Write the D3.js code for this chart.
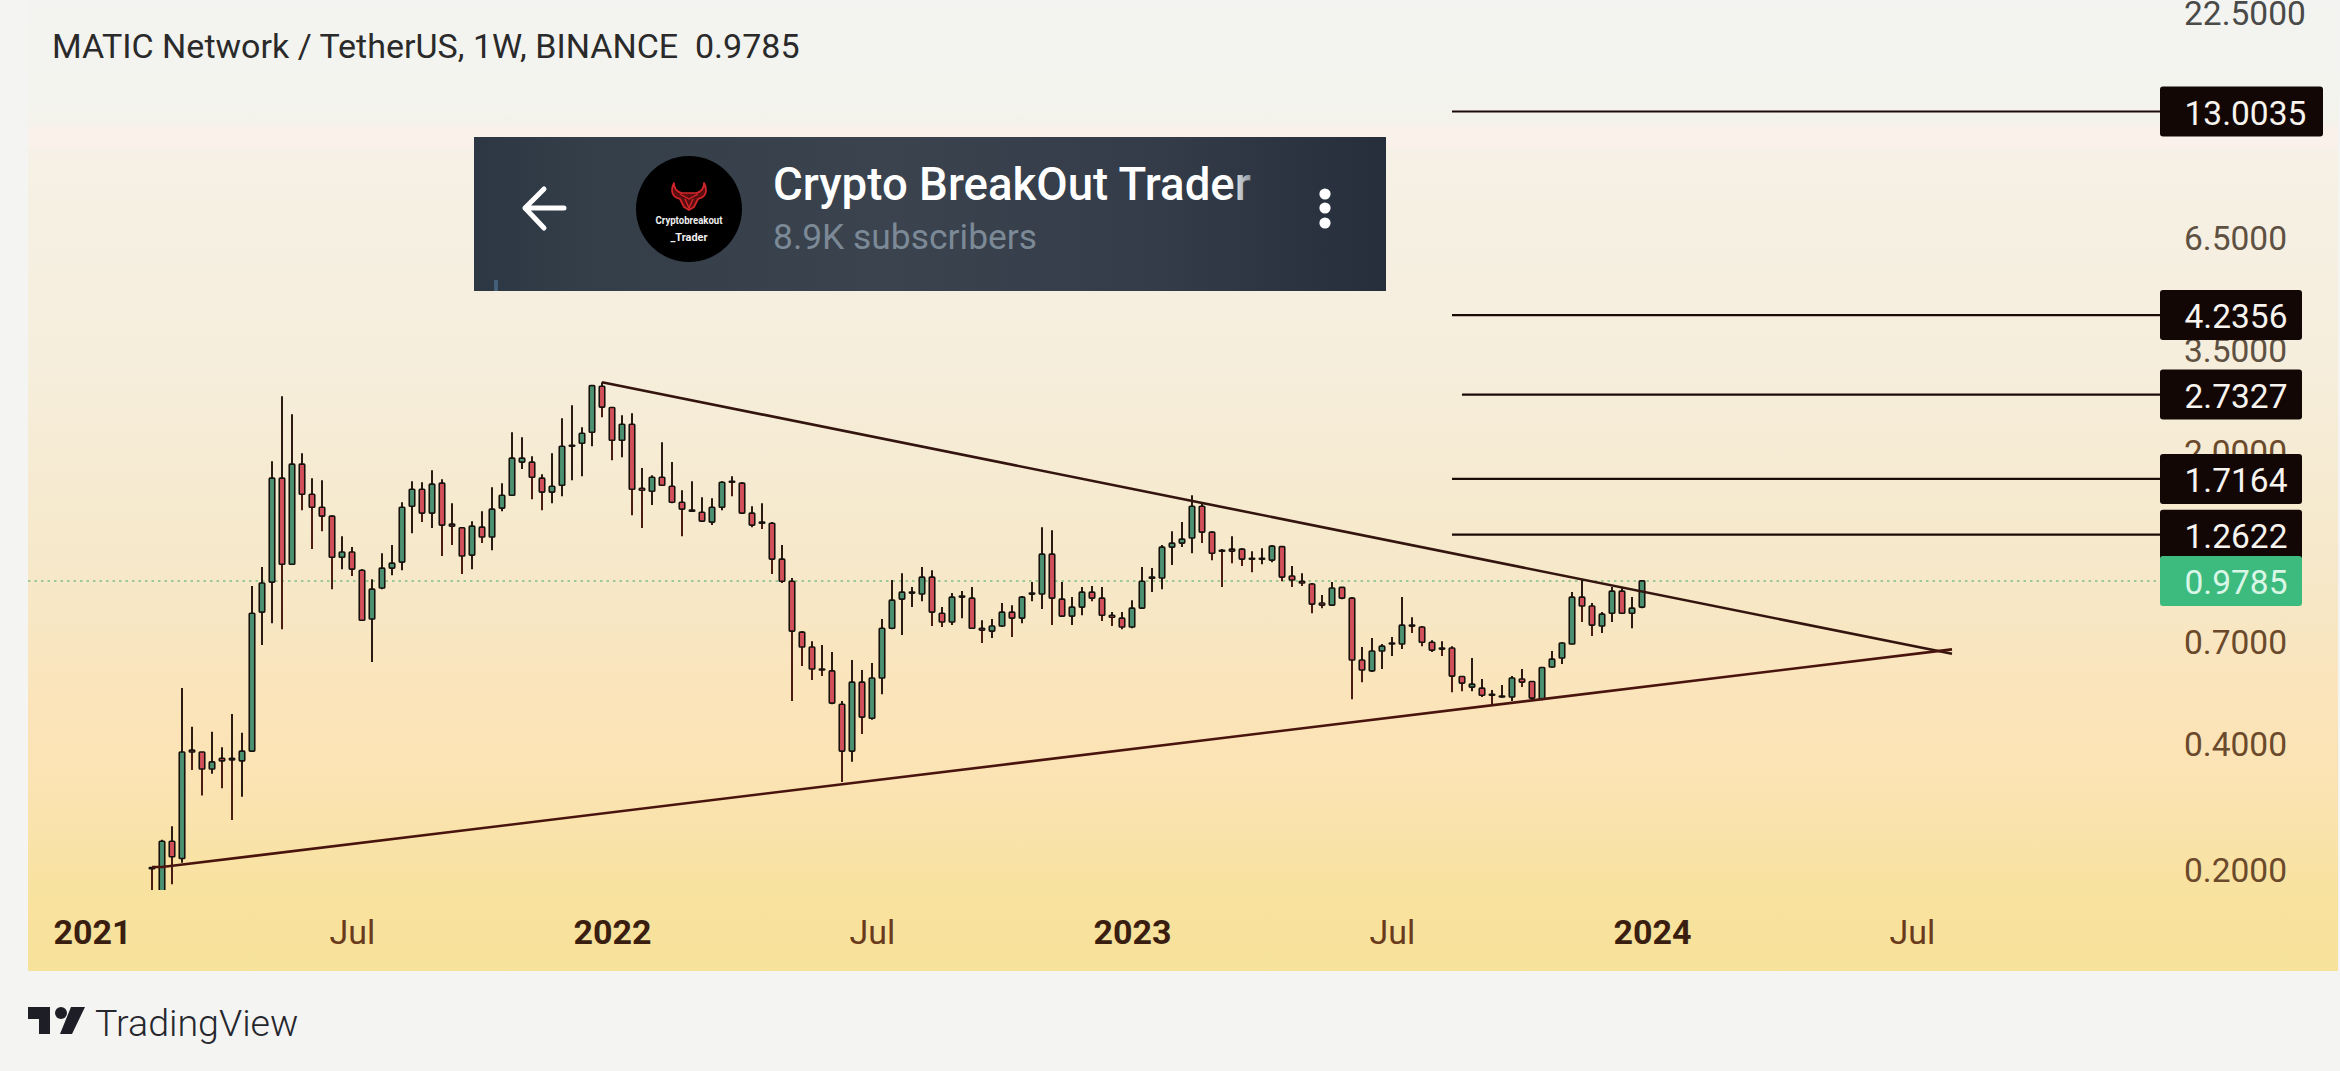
<!DOCTYPE html>
<html>
<head>
<meta charset="utf-8">
<script src="https://cdn.jsdelivr.net/npm/d3@7/dist/d3.min.js"></script>
<style>
html,body{margin:0;padding:0;background:#f4f4f2;overflow:hidden}
svg{display:block}
text{font-family:Roboto,"Noto Sans",sans-serif}
</style>
</head>
<body>
<svg id="chart" width="2340" height="1071"></svg>
<script>
// ---- values ----
const firstWeek = "2021-02-15";
const directions = "rgrgrrgrrg"+"gggrgrrrrg"+"rrgggggrgr"+"rrgrggggrr"+"gggggrrgrr"+"grrrrrggrr"+"rrrrrrrrrr"+"grggggggrr"+"ggrrggrggg"+"rrggrrrrgg"+"gggggrrrrr"+"rggrrrrrgr"+"rrggggrrrr"+"rrgrrrgrrg"+"gggrrggrgg";
const highs = [.202,.235,.253,.542,.438,.381,.426,.391,.470,.424,
.951,1.056,1.893,2.707,2.452,1.978,1.724,1.705,1.406,1.252,
1.179,1.044,.988,1.140,1.192,1.510,1.695,1.686,1.801,1.714,
1.502,1.316,1.360,1.437,1.640,1.677,2.220,2.160,1.946,1.762,
1.978,2.399,2.577,2.282,2.877,2.925,2.549,2.439,2.466,1.822,
1.752,2.100,1.883,1.613,1.695,1.552,1.544,1.695,1.743,1.686,
1.477,1.502,1.353,1.192,.994,.742,.702,.687,.661,.505,
.633,.599,.622,.793,.983,1.021,.946,1.056,1.038,.847,
.915,.925,.946,.788,.793,.866,.856,.900,.972,1.316,
1.294,.972,.895,.946,.951,.946,.824,.824,.880,1.056,
1.050,1.192,1.287,1.353,1.569,1.510,1.287,1.166,1.252,1.172,
1.153,1.172,1.192,1.185,1.062,1.021,.967,.905,.972,.946,
.895,.680,.714,.691,.718,.895,.801,.763,.706,.702,
.683,.579,.640,.570,.536,.551,.579,.602,.563,.609,
.665,.698,.920,.983,.866,.824,.946,.941,.895,.9785];
const bodyTops = [.2015,.233,.233,.381,.385,.381,.361,.368,.368,.383,
.819,.967,1.724,1.724,1.862,1.862,1.578,1.469,1.398,1.147,
1.147,1.038,.935,1.050,1.079,1.469,1.622,1.622,1.668,1.677,
1.338,1.312,1.323,1.316,1.453,1.569,1.925,1.925,1.883,1.724,
1.649,2.056,2.067,2.208,2.870,2.861,2.545,2.320,2.320,1.631,
1.733,1.733,1.649,1.510,1.445,1.429,1.469,1.686,1.695,1.677,
1.422,1.353,1.345,1.103,.977,.738,.680,.602,.596,.496,
.560,.560,.573,.754,.880,.920,.920,.999,.999,.819,
.895,.900,.890,.754,.763,.824,.824,.895,.915,1.134,
1.134,.885,.847,.920,.920,.890,.810,.797,.842,.977,
.999,1.179,1.205,1.232,1.477,1.477,1.280,1.159,1.166,1.166,
1.109,1.109,1.185,1.182,1.005,.977,.962,.866,.941,.944,
.890,.633,.665,.683,.695,.767,.767,.759,.698,.676,
.676,.578,.554,.542,.524,.519,.573,.570,.562,.607,
.636,.695,.895,.895,.852,.815,.925,.925,.842,.9785];
const bodyBottoms = [.2005,.170,.214,.212,.381,.347,.347,.363,.365,.363,
.383,.824,.972,1.073,1.073,1.578,1.469,1.398,1.115,1.115,
1.044,.788,.793,.941,1.050,1.085,1.477,1.422,1.422,1.331,
1.323,1.122,1.128,1.246,1.246,1.461,1.569,1.883,1.733,1.596,
1.596,1.658,2.056,2.090,2.220,2.549,2.125,2.125,1.622,1.613,
1.604,1.658,1.510,1.453,1.437,1.360,1.353,1.469,1.686,1.422,
1.331,1.345,1.103,.977,.742,.680,.602,.599,.499,.383,
.383,.462,.459,.573,.754,.885,.915,.910,.824,.780,
.780,.895,.754,.746,.742,.763,.797,.797,.910,.910,
.890,.806,.806,.847,.890,.810,.801,.759,.759,.842,
.994,.994,1.179,1.205,1.239,1.280,1.140,1.153,1.153,1.103,
1.103,1.103,1.097,.999,.983,.967,.861,.856,.856,.890,
.633,.599,.596,.665,.691,.691,.763,.698,.668,.672,
.579,.557,.545,.521,.521,.516,.516,.560,.513,.510,
.609,.640,.691,.852,.767,.763,.819,.819,.819,.847];
const lows = [.160,.160,.184,.207,.345,.300,.338,.312,.262,.298,
.381,.687,.775,.750,1.068,1.445,1.166,1.287,.935,1.044,
1.005,.786,.626,.935,1.010,1.038,1.273,1.353,1.309,1.122,
1.192,1.016,1.044,1.205,1.159,1.437,1.565,1.812,1.535,1.445,
1.502,1.561,1.705,1.743,2.056,2.412,1.903,1.935,1.406,1.309,
1.486,1.655,1.502,1.252,1.435,1.353,1.331,1.445,1.561,1.420,
1.316,1.302,1.016,.967,.505,.612,.567,.579,.496,.323,
.361,.421,.455,.524,.750,.726,.847,.875,.763,.759,
.767,.797,.752,.695,.714,.759,.718,.775,.875,.838,
.767,.804,.767,.810,.875,.784,.763,.750,.754,.838,
.920,.935,1.068,1.179,1.140,1.205,1.097,.946,1.079,1.062,
1.027,1.073,1.085,.977,.946,.951,.819,.842,.852,.885,
.510,.560,.592,.602,.647,.672,.734,.683,.661,.647,
.530,.533,.533,.516,.491,.514,.505,.545,.505,.507,
.606,.619,.689,.780,.722,.734,.780,.815,.754,.842];

const lastPrice = 0.9785;
const yTicks = [22.5, 6.5, 3.5, 2, 0.7, 0.4, 0.2];
const xTickDates = ["2021-01-04","2021-07-05","2022-01-03","2022-07-04","2023-01-02","2023-07-03","2024-01-01","2024-07-01"];
const xTickLabels = ["2021","Jul","2022","Jul","2023","Jul","2024","Jul"];
const levelPrices = [13.0035, 4.2356, 2.7327, 1.7164, 1.2622];
const levelStarts = ["2023-08-14","2023-08-14","2023-08-21","2023-08-14","2023-08-14"];
const upperTrendDates = ["2021-12-27","2024-07-29"];
const upperTrendPrices = [2.925, 0.6546];
const lowerTrendDates = ["2021-02-15","2021-02-22","2024-07-29"];
const lowerTrendPrices = [0.2022, 0.2022, 0.671];
const title = "MATIC Network / TetherUS, 1W, BINANCE  0.9785";
const channelName = "Crypto BreakOut Trader";
const channelSubs = "8.9K subscribers";

// ---- scales ----
const parse = d3.utcParse("%Y-%m-%d");
const x = d3.scaleUtc().domain([parse("2021-01-04"), parse("2024-07-01")]).range([92, 1912]);
const y = d3.scaleLog().domain([0.2, 22.5]).range([869, 12]);
const plot = {left: 28, right: 2338, bottom: 971, scaleX: 2160};

const svg = d3.select("#chart");
const defs = svg.append("defs");

const bg = defs.append("linearGradient").attr("id","bg").attr("x1",0).attr("x2",0).attr("y1",0).attr("y2",1);
[[0,"#f3f4f1"],[0.1,"#f3f4ee"],[0.128,"#f4f2ea"],[0.132,"#faf1eb"],[0.148,"#faf1eb"],[0.155,"#f6f1e6"],[0.36,"#f6eedd"],[0.6,"#f6e8c8"],[0.72,"#fbe4ba"],[0.8,"#fbe3b4"],[0.92,"#f8e29f"],[1,"#f7e29a"]]
  .forEach(s=>bg.append("stop").attr("offset",s[0]).attr("stop-color",s[1]));
const panel = defs.append("linearGradient").attr("id","panel").attr("x1",0).attr("x2",1).attr("y1",0).attr("y2",0);
[[0,"#2d3743"],[0.12,"#343e49"],[0.45,"#3a434e"],[0.75,"#333c48"],[1,"#262e3b"]]
  .forEach(s=>panel.append("stop").attr("offset",s[0]).attr("stop-color",s[1]));
const fade = defs.append("linearGradient").attr("id","fadeName").attr("gradientUnits","userSpaceOnUse")
  .attr("x1",1228).attr("x2",1254).attr("y1",0).attr("y2",0);
[[0,"#ffffff"],[1,"#7f8893"]].forEach(s=>fade.append("stop").attr("offset",s[0]).attr("stop-color",s[1]));
defs.append("clipPath").attr("id","plotClip").append("rect")
  .attr("x",plot.left).attr("y",0).attr("width",plot.right-plot.left).attr("height",890);

// background
svg.append("rect").attr("width",2340).attr("height",1071).attr("fill","#f4f4f2");
svg.append("rect").attr("x",plot.left).attr("y",0).attr("width",plot.right-plot.left).attr("height",plot.bottom).attr("fill","url(#bg)");

// last price dotted line
svg.append("line").attr("x1",plot.left).attr("x2",plot.scaleX)
  .attr("y1",y(lastPrice)).attr("y2",y(lastPrice))
  .attr("stroke","#9cc98f").attr("stroke-width",2).attr("stroke-dasharray","2.5 4");

// candles
const candles = d3.range(highs.length).map(i=>({
  date: d3.utcWeek.offset(parse(firstWeek), i),
  high: highs[i], top: bodyTops[i], bottom: bodyBottoms[i], low: lows[i], up: directions[i]==="g"
}));
const gCandles = svg.append("g").attr("clip-path","url(#plotClip)");
const c = gCandles.selectAll("g").data(candles).join("g");
c.append("line").attr("x1",d=>x(d.date)).attr("x2",d=>x(d.date))
  .attr("y1",d=>y(d.high)).attr("y2",d=>y(d.top))
  .attr("stroke","#2a1a12").attr("stroke-width",2);
c.append("line").attr("x1",d=>x(d.date)).attr("x2",d=>x(d.date))
  .attr("y1",d=>y(d.bottom)).attr("y2",d=>y(d.low))
  .attr("stroke",d=>d.up?"#2a1a12":"#4a1c12").attr("stroke-width",2);
c.append("rect").attr("x",d=>x(d.date)-2.75).attr("width",5.5)
  .attr("y",d=>y(d.top)).attr("height",d=>Math.max(y(d.bottom)-y(d.top),1))
  .attr("rx",0.8)
  .attr("fill",d=>d.up?"#4a9271":"#d3505a")
  .attr("stroke","#17120e").attr("stroke-width",1.6);

// trend lines
const line = d3.line().x(d=>x(parse(d[0]))).y(d=>y(d[1]));
svg.append("path").attr("d",line(d3.zip(upperTrendDates,upperTrendPrices)))
  .attr("fill","none").attr("stroke","#33140e").attr("stroke-width",2.6);
svg.append("path").attr("d",line(d3.zip(lowerTrendDates,lowerTrendPrices)))
  .attr("fill","none").attr("stroke","#4a140e").attr("stroke-width",2.6);

// x axis
const xAxis = d3.axisBottom(x).tickValues(xTickDates.map(parse))
  .tickSize(0).tickPadding(0).tickFormat((d,i)=>xTickLabels[i]);
const gx = svg.append("g").attr("transform","translate(0,920)").call(xAxis);
gx.select(".domain").remove();
gx.selectAll("text").attr("font-size",34)
  .attr("fill",(d,i)=>xTickLabels[i]==="Jul"?"#6b3a1c":"#3a1f10")
  .attr("font-weight",(d,i)=>xTickLabels[i]==="Jul"?400:700)
  .style("font-family","Roboto");

// y axis
const yAxis = d3.axisRight(y).tickValues(yTicks).tickSize(0).tickPadding(0).tickFormat(d3.format(".4f"));
const gy = svg.append("g").attr("transform","translate(2184,1.5)").call(yAxis);
gy.select(".domain").remove();
gy.selectAll("text").attr("font-size",33.5)
  .attr("fill",d=>d>20?"#4a4a48":(d>3?"#5f5142":"#6b4a2c"))
  .style("font-family","Roboto");

// level lines and price tags
const lv = svg.append("g").selectAll("g").data(d3.zip(levelPrices,levelStarts)).join("g");
lv.append("line").attr("x1",d=>x(parse(d[1]))).attr("x2",plot.scaleX)
  .attr("y1",d=>y(d[0])).attr("y2",d=>y(d[0]))
  .attr("stroke","#1c0a06").attr("stroke-width",2.2);
lv.append("rect").attr("x",plot.scaleX).attr("width",d=>d[0]>10?163:142)
  .attr("y",d=>y(d[0])-25).attr("height",50).attr("rx",3).attr("fill","#130706");
lv.append("text").attr("x",2184.5).attr("y",d=>y(d[0])+1).attr("dy","0.36em")
  .attr("font-size",33.5).attr("fill","#f7f3ef").text(d=>d3.format(".4f")(d[0]));
const tag = svg.append("g");
tag.append("rect").attr("x",plot.scaleX).attr("width",142).attr("y",y(lastPrice)-25).attr("height",50).attr("rx",3).attr("fill","#3dbb7e");
tag.append("text").attr("x",2184.5).attr("y",y(lastPrice)+1).attr("dy","0.36em")
  .attr("font-size",33.5).attr("fill","#d9f6e6").text(d3.format(".4f")(lastPrice));

// header
svg.append("text").attr("x",52).attr("y",57.5).attr("font-size",34).attr("fill","#2a2a2a")
  .attr("xml:space","preserve").style("white-space","pre").text(title);

// telegram-style overlay
const p = svg.append("g");
p.append("rect").attr("x",474).attr("y",137).attr("width",912).attr("height",154).attr("fill","url(#panel)");
p.append("rect").attr("x",494).attr("y",280).attr("width",4).attr("height",11).attr("fill","#4d6f8d").attr("opacity",0.7);
p.append("path").attr("d","M525 208 H564 M544 189 L525 208 L544 228")
  .attr("fill","none").attr("stroke","#fff").attr("stroke-width",5).attr("stroke-linecap","round").attr("stroke-linejoin","round");
p.append("circle").attr("cx",689).attr("cy",209).attr("r",53).attr("fill","#000");
p.append("path").attr("d","M674 183 C670 191 672 197 680 199 L684 207 L689 210 L694 207 L698 199 C706 197 708 191 704 183 C704 189 701 192 696 193 L682 193 C677 192 674 189 674 183 Z")
  .attr("fill","#5a0e10").attr("stroke","#d4262a").attr("stroke-width",1.7).attr("stroke-linejoin","round");
p.append("path").attr("d","M680 194 L689 199 L698 194 M685 199 L689 208 L693 199")
  .attr("fill","none").attr("stroke","#d4262a").attr("stroke-width",1.4);
p.append("text").attr("x",689).attr("y",224).attr("text-anchor","middle").attr("font-size",11.5).attr("font-weight",700).attr("fill","#eee")
  .attr("textLength",67).attr("lengthAdjust","spacingAndGlyphs").text("Cryptobreakout");
p.append("text").attr("x",689).attr("y",240.5).attr("text-anchor","middle").attr("font-size",11.5).attr("font-weight",700).attr("fill","#eee")
  .attr("textLength",37).attr("lengthAdjust","spacingAndGlyphs").text("_Trader");
p.append("text").attr("x",773).attr("y",200).attr("font-size",45.6).attr("font-weight",500).attr("fill","url(#fadeName)").text(channelName);
p.append("text").attr("x",773).attr("y",249).attr("font-size",35.4).attr("fill","#7c8996").text(channelSubs);
p.selectAll("circle.dot").data([194,208,223]).join("circle").attr("class","dot")
  .attr("cx",1325).attr("cy",d=>d).attr("r",5.6).attr("fill","#fff");

// TradingView footer
const f = svg.append("g").attr("fill","#1e1f26");
f.append("path").attr("d","M28 1007 H50 V1034 H39 V1019 H28 Z");
f.append("circle").attr("cx",61).attr("cy",1013).attr("r",6);
f.append("path").attr("d","M71 1007 H85 L72 1034 H60 Z");
svg.append("text").attr("x",95).attr("y",1036).attr("font-size",37.6).attr("font-weight",300).attr("fill","#26272e").text("TradingView");
</script>
</body>
</html>
